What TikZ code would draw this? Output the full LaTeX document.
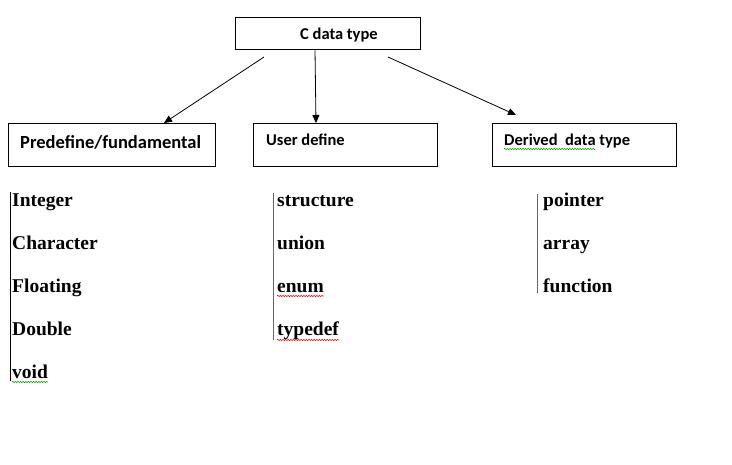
\documentclass[tikz,border=0pt]{standalone}
\usepackage{fontspec}
\setmainfont{Liberation Serif}
\newfontfamily\boxfont{Carlito}
\usetikzlibrary{arrows.meta,decorations.pathmorphing,calc}
\newlength\derwd
\begin{document}
\settowidth\derwd{\boxfont\bfseries\fontsize{16.5}{18}\selectfont Derived\ \ data}%
\begin{tikzpicture}[x=1pt,y=-1pt,
  boxstyle/.style={draw=black,line width=0.9pt,rectangle,inner sep=0pt},
  boxlabel/.style={anchor=base west,inner sep=0pt,font=\boxfont\bfseries\fontsize{16.5}{18}\selectfont},
  item/.style={anchor=base west,inner sep=0pt,font=\bfseries\fontsize{19.5}{21}\selectfont},
  conn/.style={line width=0.8pt,-{Triangle[length=8pt,width=7pt]}},
  bar/.style={line width=0.9pt},
  squig/.style={line width=0.5pt,decorate,decoration={snake,amplitude=0.7pt,segment length=2.6pt}}]
\useasboundingbox (0,0) rectangle (732,464);
\fill[white] (0,0) rectangle (732,464);
% boxes
\node[boxstyle,minimum width=185pt,minimum height=32pt] (top) at (327.5,33) {};
\node[boxstyle,minimum width=207pt,minimum height=43pt] (pre) at (111.5,144.5) {};
\node[boxstyle,minimum width=184pt,minimum height=43pt] (usr) at (345,144.5) {};
\node[boxstyle,minimum width=184pt,minimum height=43pt] (der) at (584,144.5) {};
% box labels
\node[boxlabel] (toplbl) at (300,39) {C data type};
\node[boxlabel,font=\boxfont\bfseries\fontsize{18.5}{20}\selectfont] (prelbl) at (20,148) {Predefine/fundamental};
\node[boxlabel] (usrlbl) at (266,145) {User define};
\node[boxlabel] (derlbl) at (504,145) {Derived\ \ data type};
% connectors
\coordinate (s1) at (264,57);
\coordinate (s2) at (315,49);
\coordinate (s3) at (388,57);
\coordinate (e1) at (164,123);
\coordinate (e2) at (316,123);
\coordinate (e3) at (516,115);
\draw[conn] (s1) -- (e1);
\draw[conn] (top.south -| s2) -- (e2);
\draw[conn] (s3) -- (e3);
% lists
\coordinate (b1t) at (10,192);
\coordinate (b1b) at (10,381);
\draw[bar,black] (b1t) -- (b1b);
\node[item] (i1) at (12,206) {Integer};
\node[item] (i2) at (12,249) {Character};
\node[item] (i3) at (12,292) {Floating};
\node[item] (i4) at (12,335) {Double};
\node[item] (i5) at (12,378) {void};
\coordinate (b2t) at (273,193);
\coordinate (b2b) at (273,340);
\draw[bar,black!60] (b2t) -- (b2b);
\node[item] (u1) at (277,206) {structure};
\node[item] (u2) at (277,249) {union};
\node[item] (u3) at (277,292) {enum};
\node[item] (u4) at (277,335) {typedef};
\coordinate (b3t) at (537,194);
\coordinate (b3b) at (537,293);
\draw[bar,black!60] (b3t) -- (b3b);
\node[item] (d1) at (543,206) {pointer};
\node[item] (d2) at (543,249) {array};
\node[item] (d3) at (543,292) {function};
% spell-check squiggles
\coordinate (dq1) at ([yshift=-4pt]derlbl.base west);
\coordinate (dq2) at ($(dq1)+(\the\derwd,0pt)$);
\draw[squig,green!60!black] (dq1) -- (dq2);
\draw[squig,green!60!black] ([yshift=-4pt]i5.base west) -- ([yshift=-4pt]i5.base east);
\draw[squig,red] ([yshift=-4pt]u3.base west) -- ([yshift=-4pt]u3.base east);
\draw[squig,red] ([yshift=-5pt]u4.base west) -- ([yshift=-5pt]u4.base east);
\end{tikzpicture}
\end{document}
